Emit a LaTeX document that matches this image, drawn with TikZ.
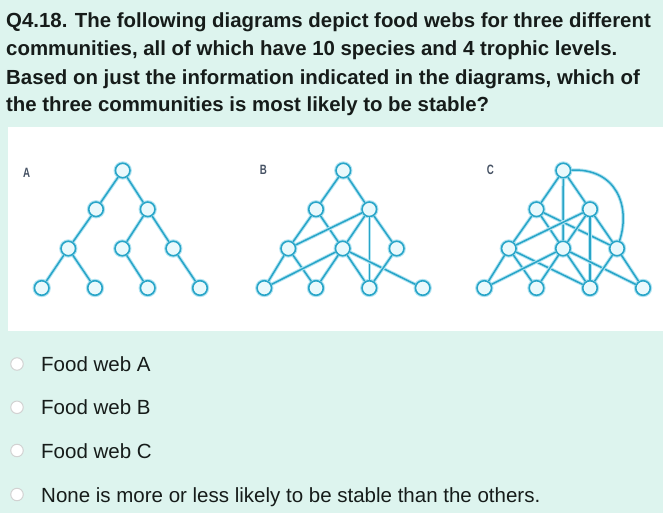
\documentclass[tikz,border=0pt]{standalone}
\usepackage{fontspec}
\setmainfont{Liberation Sans}
\definecolor{mint}{RGB}{221,244,238}
\definecolor{webc}{RGB}{40,165,200}
\definecolor{webglow}{RGB}{178,228,242}
\definecolor{nodefill}{RGB}{234,249,252}
\definecolor{txt}{RGB}{22,28,26}
\definecolor{lbl}{RGB}{70,82,100}
\begin{document}
\begin{tikzpicture}[x=1pt,y=-1pt,
  sp/.style={circle, draw=webc, fill=nodefill, line width=1.6pt, minimum size=14.5pt, inner sep=0pt, preaction={draw=webglow, line width=3.8pt}},
  link/.style={draw=webc, line width=1.5pt, preaction={draw=webglow, line width=3.5pt}},
  head/.style={anchor=base west, inner sep=0pt, text=txt, font=\fontsize{20.4}{24}\selectfont\bfseries},
  opt/.style={anchor=base west, inner sep=0pt, text=txt, font=\fontsize{20.5}{24}\selectfont},
  radio/.style={circle, draw=gray!35, fill=white, line width=1pt, minimum size=12.5pt, inner sep=0pt},
  weblabel/.style={anchor=center, inner sep=0pt, text=lbl, font=\fontsize{13.5}{13.5}\selectfont\bfseries}
]
\fill[mint] (0,0) rectangle (663,513);
\useasboundingbox (0,0) rectangle (663,513);
\fill[white] (8,127) rectangle (663,331);

% header
\node[head] (h1) at (6,27.5) {Q4.18. The following diagrams depict food webs for three different};
\node[head] (h2) at (6,56) {communities, all of which have 10 species and 4 trophic levels.};
\node[head] (h3) at (6,84.5) {Based on just the information indicated in the diagrams, which of};
\node[head] (h4) at (6,112) {the three communities is most likely to be stable?};

% web labels
\node[weblabel] (la) at (26.7,172.5) {\scalebox{0.72}[1]{A}};
\node[weblabel] (lb) at (263.5,170) {\scalebox{0.72}[1]{B}};
\node[weblabel] (lc) at (490.5,170) {\scalebox{0.72}[1]{C}};

% web A
\node[sp] (a1) at (122.7,170.5) {};
\node[sp] (a21) at (96,209.3) {};
\node[sp] (a22) at (147.7,209.3) {};
\node[sp] (a31) at (68.3,248.5) {};
\node[sp] (a32) at (122.3,248.5) {};
\node[sp] (a33) at (173.3,248.5) {};
\node[sp] (a41) at (41.7,288) {};
\node[sp] (a42) at (95,288) {};
\node[sp] (a43) at (147.7,288) {};
\node[sp] (a44) at (200,288) {};
\foreach \u/\v in {a1/a21,a1/a22,a21/a31,a22/a32,a22/a33,a31/a41,a31/a42,a32/a43,a33/a44}
  \draw[link] (\u) -- (\v);

% web B
\node[sp] (b1) at (343.3,170.5) {};
\node[sp] (b21) at (316,209.3) {};
\node[sp] (b22) at (369.3,209.3) {};
\node[sp] (b31) at (288.3,248.5) {};
\node[sp] (b32) at (342.7,248.5) {};
\node[sp] (b33) at (396.7,248.5) {};
\node[sp] (b41) at (264.3,288) {};
\node[sp] (b42) at (316,288) {};
\node[sp] (b43) at (369.3,288) {};
\node[sp] (b44) at (422.7,288) {};
\foreach \u/\v in {b1/b21,b1/b22,b21/b31,b21/b32,b22/b31,b22/b32,b22/b33,b22/b43,b31/b41,b31/b42,b32/b41,b32/b42,b32/b43,b32/b44,b33/b43}
  \draw[link] (\u) -- (\v);

% web C
\node[sp] (c1) at (563.3,170.5) {};
\node[sp] (c21) at (536.5,209.3) {};
\node[sp] (c22) at (590,209.3) {};
\node[sp] (c31) at (508.8,248.5) {};
\node[sp] (c32) at (563,248.5) {};
\node[sp] (c33) at (617,248.5) {};
\node[sp] (c41) at (484.3,288) {};
\node[sp] (c42) at (536.5,288) {};
\node[sp] (c43) at (590,288) {};
\node[sp] (c44) at (643,288) {};
\foreach \u/\v in {c1/c21,c1/c22,c1/c32,c21/c31,c21/c32,c21/c33,c22/c31,c22/c32,c22/c33,c22/c43,c31/c41,c31/c42,c31/c43,c32/c41,c32/c42,c32/c43,c32/c44,c33/c43,c33/c44}
  \draw[link] (\u) -- (\v);
\draw[link] (c1) .. controls (616,168) and (631,206) .. (c33);

% options
\node[radio] (r1) at (17,364) {};
\node[radio] (r2) at (17,407.3) {};
\node[radio] (r3) at (17,450.5) {};
\node[radio] (r4) at (17,494.5) {};
\node[opt] (o1) at (41,371.5) {Food web A};
\node[opt] (o2) at (41,414.8) {Food web B};
\node[opt] (o3) at (41,458) {Food web C};
\node[opt] (o4) at (41,502) {None is more or less likely to be stable than the others.};
\end{tikzpicture}
\end{document}
